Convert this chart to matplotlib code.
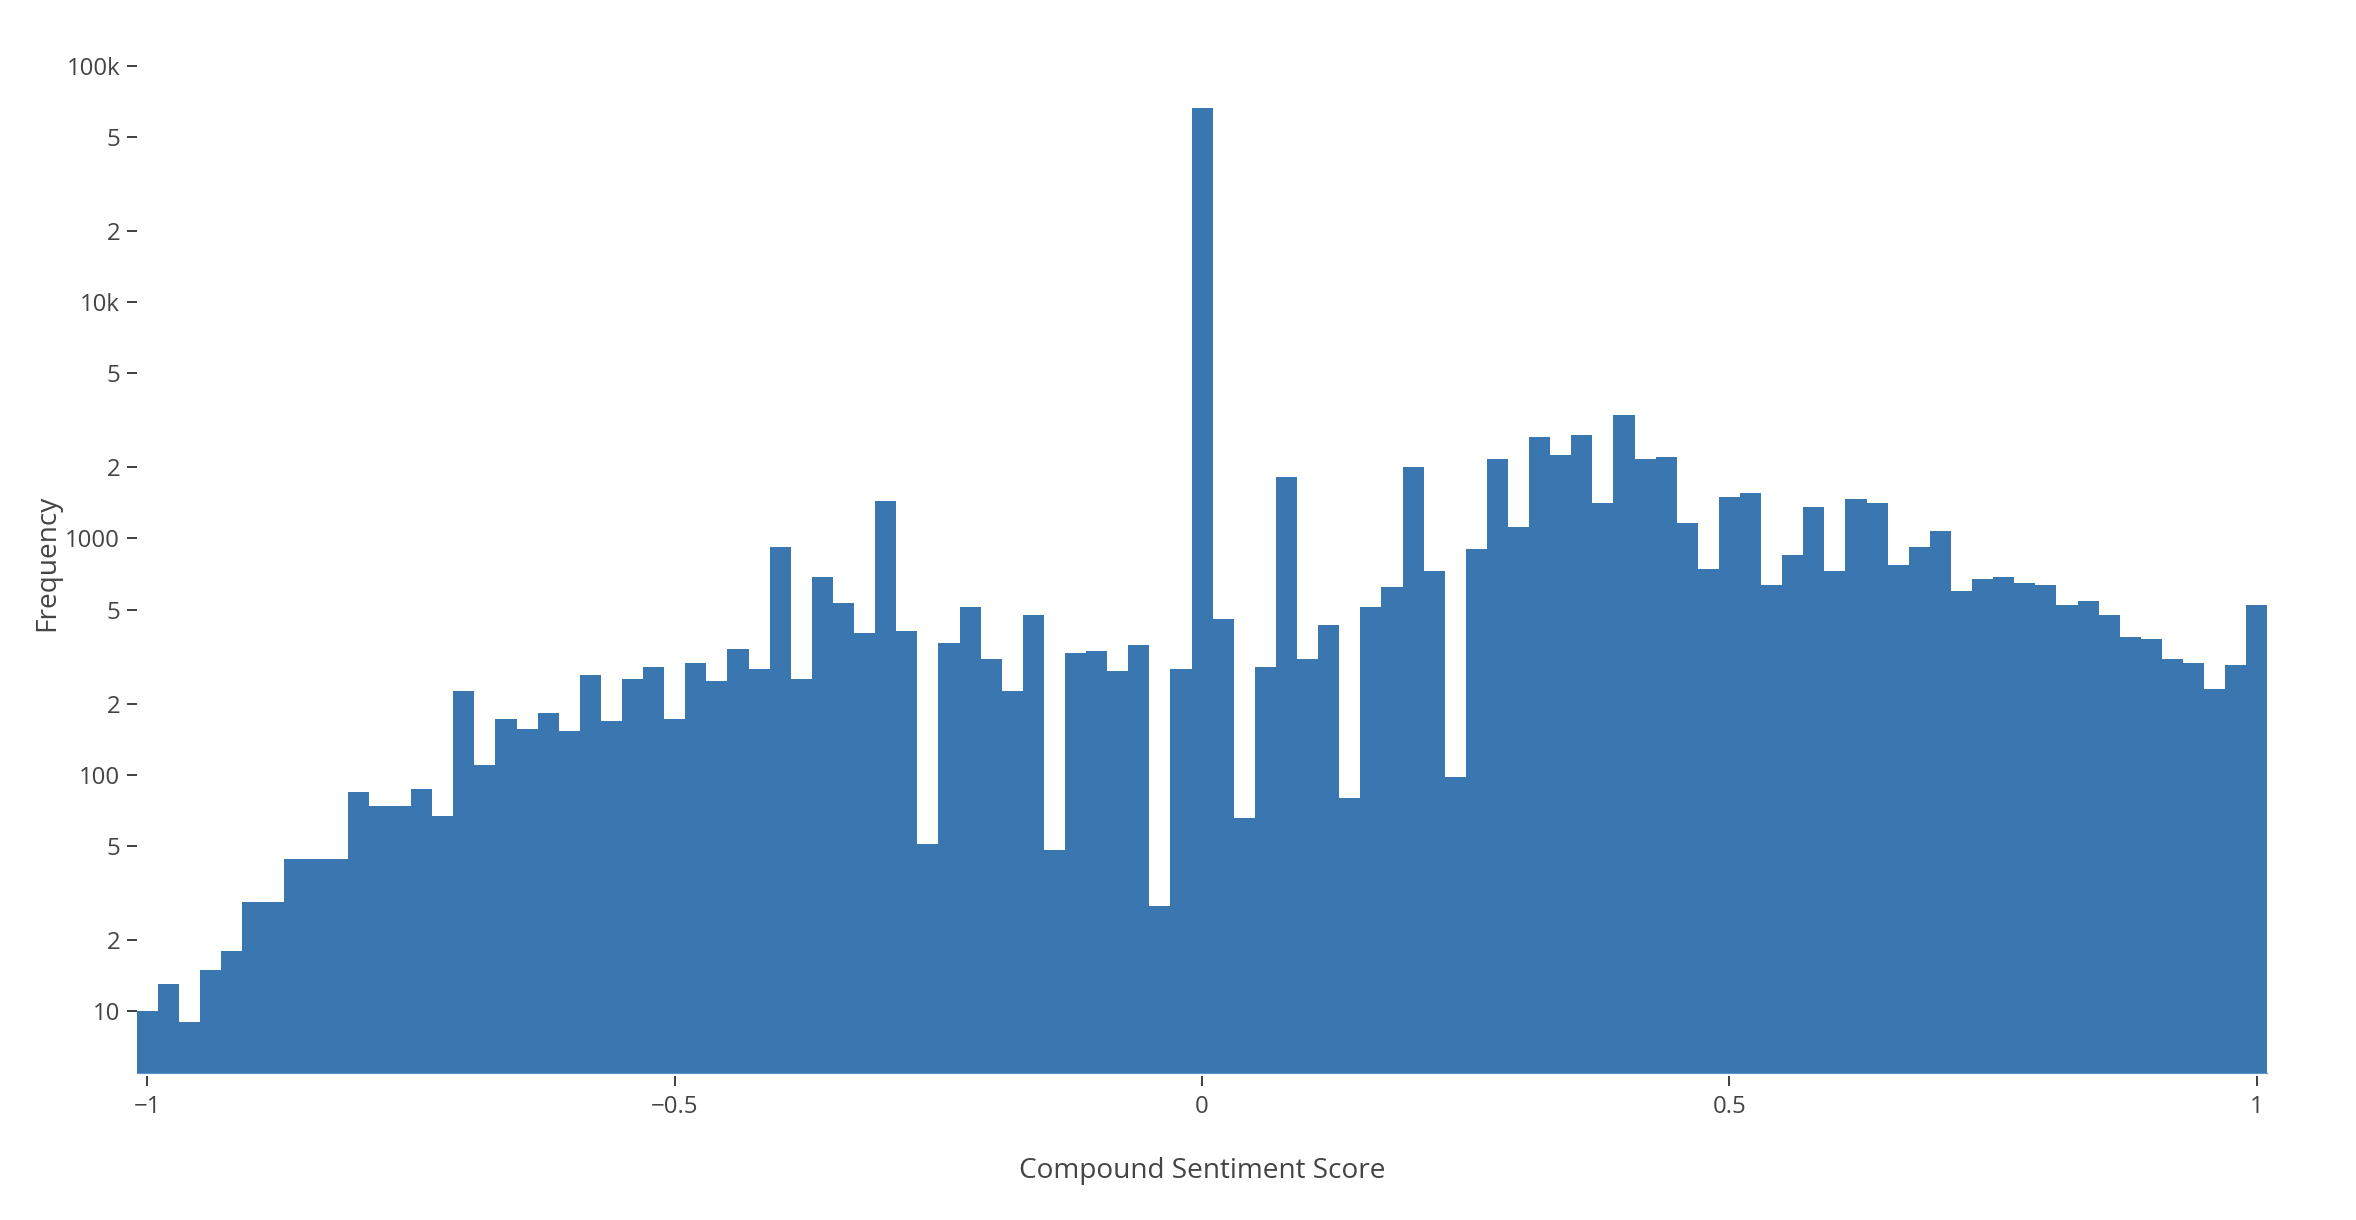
import numpy as np
import matplotlib
matplotlib.use("Agg")
import matplotlib.pyplot as plt
from matplotlib.ticker import FixedLocator, FixedFormatter, NullLocator

# ---- data ----
bin_start = -1.0          # centre of first bin
bin_size = 0.02
counts = [10, 13, 9, 15, 18, 29, 29, 44, 44, 44,
          85, 74, 74, 87, 67, 226, 110, 172, 156, 182,
          153, 264, 169, 254, 286, 172, 297, 249, 341, 281,
          922, 254, 688, 533, 398, 1445, 406, 51, 361, 513,
          309, 226, 475, 48, 328, 334, 275, 354, 28, 281,
          66200, 457, 66, 286, 1824, 309, 431, 80, 513, 624,
          2014, 730, 98, 904, 2178, 1120, 2697, 2264, 2749, 1416,
          3341, 2178, 2218, 1165, 743, 1503, 1563, 637, 853, 1361,
          730, 1472, 1416, 773, 922, 1077, 600, 675, 688, 649,
          637, 524, 544, 475, 383, 376, 309, 297, 231, 292,
          524]
xtick_vals = [-1, -0.5, 0, 0.5, 1]
xtick_labels = ["\u22121", "\u22120.5", "0", "0.5", "1"]
ytick_vals = [10, 20, 50, 100, 200, 500, 1000, 2000, 5000, 10000, 20000, 50000, 100000]
ytick_labels = ["10", "2", "5", "100", "2", "5", "1000", "2", "5", "10k", "2", "5", "100k"]
x_title = "Compound Sentiment Score"
y_title = "Frequency"

# ---- figure ----
W, H = 2356, 1220
plt.rcParams['font.family'] = ['Open Sans', 'DejaVu Sans']
fig = plt.figure(figsize=(W / 100, H / 100), dpi=100)
left_px, right_px, top_px, bot_px = 136.8, 2267.4, 57.4, 1073.0
ax = fig.add_axes([left_px / W, 1 - bot_px / H, (right_px - left_px) / W, (bot_px - top_px) / H])

centers = bin_start + bin_size * np.arange(len(counts))
bar_color = '#3a76af'
ax.bar(centers, counts, width=bin_size, align='center', color=bar_color, linewidth=0)

ax.set_yscale('log')
ax.set_xlim(-1.01, 1.01)
ylow, yhigh = 10 ** 0.739, 10 ** 5.035
ax.set_ylim(ylow, yhigh)

# faint lighter line at the base of the bars
ax.plot([-1.01, 1.01], [ylow, ylow], color='#5d92cf', lw=0.8, clip_on=False, zorder=3)

for s in ax.spines.values():
    s.set_visible(False)
ax.spines['bottom'].set_position(('outward', 2))

tick_col = '#444444'
ax.xaxis.set_major_locator(FixedLocator(xtick_vals))
ax.xaxis.set_major_formatter(FixedFormatter(xtick_labels))
ax.yaxis.set_major_locator(FixedLocator(ytick_vals))
ax.yaxis.set_major_formatter(FixedFormatter(ytick_labels))
ax.yaxis.set_minor_locator(NullLocator())
ax.xaxis.set_minor_locator(NullLocator())
ax.tick_params(axis='both', which='major', direction='out', length=7.2, width=1.44,
               color=tick_col, labelcolor=tick_col, labelsize=17.3)
ax.tick_params(axis='x', pad=6.9)
ax.tick_params(axis='y', pad=4.8)

fig.text(1202 / W, 1 - 1178.3 / H, x_title, ha='center', va='baseline',
         fontsize=20.2, color=tick_col)
fig.text(47.5 / W, 1 - 563 / H, y_title, ha='center', va='center', rotation=90,
         fontsize=20.2, color=tick_col)

fig.savefig('out.png', dpi=100, facecolor='white')
